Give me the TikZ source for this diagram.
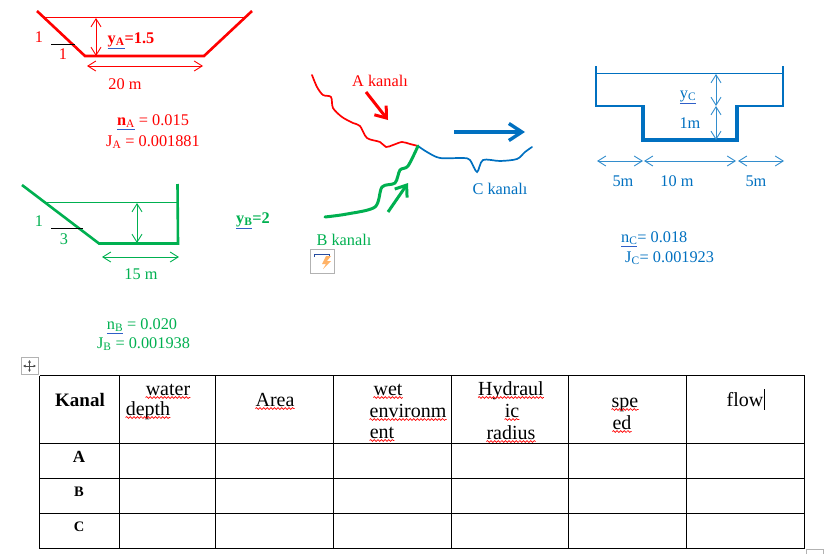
\documentclass[tikz,border=0pt]{standalone}
\usepackage{fontspec}
\setmainfont{Liberation Serif}
\usetikzlibrary{arrows.meta,decorations.pathmorphing}
\definecolor{kred}{HTML}{FF0000}
\definecolor{kgreen}{HTML}{00B050}
\definecolor{kblue}{HTML}{0070C0}
\definecolor{ulblue}{HTML}{2F5FC8}
\newcommand{\gramul}[1]{\colorlet{txtcol}{.}{\color{ulblue}$\underline{\hbox{\color{txtcol}#1}}$}}
\tikzset{
  lbl/.style={inner sep=0pt,anchor=base,font=\fontsize{16.3}{16}\selectfont},
  tbl/.style={inner sep=0pt,anchor=base,font=\fontsize{20}{20}\selectfont},
  bed/.style={line width=2.6pt,line join=miter},
  level/.style={line width=.9pt},
  dimarrow/.style={line width=.9pt,{Straight Barb[length=8pt,width=10pt]}-{Straight Barb[length=8pt,width=10pt]}},
  flowarrow/.style={line width=3pt,-{Straight Barb[length=10pt,width=15pt]}},
  river/.style={line width=1.7pt,smooth,line cap=round},
  spell/.style={draw=red,line width=.7pt,decorate,decoration={snake,segment length=3.6pt,amplitude=.9pt}},
}
\begin{document}
\begin{tikzpicture}[x=1pt,y=-1pt]
\useasboundingbox (0,0) rectangle (824,554);
% A channel
\coordinate (a1) at (37,11);
\coordinate (a2) at (85,56);
\coordinate (a3) at (204,56);
\coordinate (a4) at (252,11);
\draw[bed,kred] (a1) -- (a2) -- (a3) -- (a4);
\draw[level,kred] (45,17) -- (246,17);
\draw[black,line width=.8pt] (51,44) -- (75,44);
\draw[dimarrow,kred] (96,18) -- (96,56);
\draw[dimarrow,kred] (87,66) -- (203,66);
\begin{scope}[every node/.style={lbl,text=kred}]
\node (aone) at (39,42) {1};
\node (arun) at (63,59) {1};
\node (ya) at (131,43) {\textbf{\gramul{y\textsubscript{A}}=1.5}};
\node (awidth) at (125,89) {20 m};
\node (na) at (153,125) {\gramul{\textbf{n}\textsubscript{A}} = 0.015};
\node (ja) at (153,146) {J\textsubscript{A} = 0.001881};
\end{scope}
% B channel
\coordinate (b1) at (22,185);
\coordinate (b2) at (99,243.5);
\coordinate (b3) at (178,243.5);
\coordinate (b4) at (177.5,184);
\draw[bed,kgreen] (b1) -- (b2) -- (b3) -- (b4);
\draw[level,kgreen] (45,202.5) -- (178,202.5);
\draw[black,line width=.8pt] (51,228) -- (83,228);
\draw[dimarrow,kgreen] (137,203) -- (137,243);
\draw[dimarrow,kgreen] (102,257) -- (179,257);
\begin{scope}[every node/.style={lbl,text=kgreen}]
\node (bone) at (39,226) {1};
\node (brun) at (64,244) {3};
\node (bwidth) at (141,279) {15 m};
\node (yb) at (253,223) {\textbf{\gramul{y\textsubscript{B}}=2}};
\node (nb) at (142,329) {\gramul{n\textsubscript{B}} = 0.020};
\node (jb) at (143.5,348) {J\textsubscript{B} = 0.001938};
\node (bname) at (344,245) {B kanalı};
\end{scope}
% rivers
\draw[river,kred] plot coordinates {(312,75) (317,87) (323,95) (331,97) (333,108) (342,117) (353,123) (360,126) (367,138) (380,142) (386,147) (393,145) (402,142) (410,144) (418,146)};
\draw[river,kblue] plot coordinates {(418,146) (427,152) (440,158) (463,158) (470,160) (477,172) (483,160) (500,161) (517,159) (525,152) (532,147)};
\draw[river,kgreen,line width=3pt] plot coordinates {(325,217) (347,214) (375,207) (382,187) (395,183) (400,170) (408,166) (418,146)};
\draw[flowarrow,kred] (366,92) -- (388,120);
\draw[flowarrow,kgreen] (388,212) -- (408,183);
\draw[flowarrow,kblue,line width=3.4pt,-{Straight Barb[length=13pt,width=17pt]}] (454,132) -- (525,132);
\node[lbl,text=kred] (aname) at (380,86) {A kanalı};
\node[lbl,text=kblue] (cname) at (500,194) {C kanalı};
% C channel
\draw[bed,kblue,line width=2.2pt] (596,66) -- (596,106) -- (643,106);
\draw[bed,kblue,line width=3.2pt] (643,105) -- (643,140) -- (737,140) -- (737,105);
\draw[bed,kblue,line width=2.2pt] (737,106) -- (783,106) -- (783,66);
\draw[level,kblue] (597,73.5) -- (783,73.5);
\begin{scope}[kblue!80]
\draw[dimarrow] (716,74) -- (716,106);
\draw[dimarrow] (716,106) -- (716,140);
\draw[dimarrow] (597,161) -- (643,161);
\draw[dimarrow] (644,161) -- (736,161);
\draw[dimarrow] (738,161) -- (784,161);
\end{scope}
\begin{scope}[every node/.style={lbl,text=kblue}]
\node (yc) at (688,98) {\gramul{y\textsubscript{C}}};
\node (cdeep) at (690,128) {1m};
\node (cfive) at (623,186) {5m};
\node (cten) at (677,186) {10 m};
\node (csix) at (756,186) {5m};
\node[anchor=base west] (nc) at (621,242) {\gramul{n\textsubscript{C}}= 0.018};
\node[anchor=base west] (jc) at (625,262) {J\textsubscript{C}= 0.001923};
\end{scope}
% table
\foreach \xx in {39.5,119.5,215.5,333.5,451.5,568.5,686.5,804.5}
  \draw[line width=.8pt] (\xx,375.5) -- (\xx,548.5);
\foreach \yy in {375.5,443.5,478.5,513.5,548.5}
  \draw[line width=.8pt] (39.5,\yy) -- (804.5,\yy);
\begin{scope}[every node/.style={tbl}]
\node[font=\fontsize{19}{19}\selectfont\bfseries] (kanal) at (80,406) {Kanal};
\node (water) at (168,395) {water};
\node (depth) at (148,415) {depth};
\node (area) at (275,406) {Area};
\node (wet) at (388,395) {wet};
\node (environ) at (408,417) {environm};
\node (ent) at (382,438) {ent};
\node (hyd) at (511,395) {Hydraul};
\node (ic) at (512,417) {ic};
\node (radius) at (511,439) {radius};
\node (spe) at (625,407) {spe};
\node (ed) at (622,429) {ed};
\node (flowtxt) at (745,406) {flow};
\node[font=\fontsize{17}{17}\selectfont\bfseries] (rowa) at (79,462) {A};
\node[font=\fontsize{14.5}{14}\selectfont\bfseries] (rowb) at (79,496) {B};
\node[font=\fontsize{14.5}{14}\selectfont\bfseries] (rowc) at (79,531) {C};
\end{scope}
\foreach \word in {water,depth,area,wet,environ,ent,hyd,ic,radius,spe,ed}
  \draw[spell] ([yshift=-2.5pt]\word.base west) -- ([yshift=-2.5pt]\word.base east);
\draw[line width=.8pt] (764,389) -- (764,410); % cursor
% word icons
\draw[gray!60,line width=.8pt,fill=white] (310.5,249.5) rectangle (334,273);
\draw[ulblue!80!black,line width=.7pt] (314,257) -- (314,254) -- (329,254) -- (329,257);
\fill[orange!60] (326,256) -- (322,264) -- (326,264) -- (323,269) -- (331,261) -- (327,261) -- (331,256) -- cycle;
\draw[gray!60,line width=.9pt,fill=white] (21,357.5) rectangle (38,374.5);
\draw[black!70,line width=.7pt,-{Latex[length=2.5pt,width=3pt]}] (29.5,366) -- (29.5,360);
\draw[black!70,line width=.7pt,-{Latex[length=2.5pt,width=3pt]}] (29.5,366) -- (29.5,372);
\draw[black!70,line width=.7pt,-{Latex[length=2.5pt,width=3pt]}] (29.5,366) -- (23,366);
\draw[black!70,line width=.7pt,-{Latex[length=2.5pt,width=3pt]}] (29.5,366) -- (36,366);
\draw[gray!60,line width=.8pt] (806,554) -- (806,549.5) -- (823,549.5) -- (823,554);
\end{tikzpicture}
\end{document}
